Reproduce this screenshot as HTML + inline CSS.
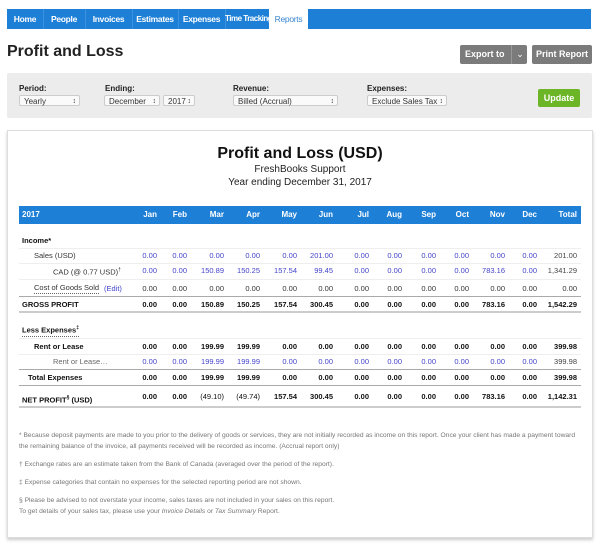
<!DOCTYPE html><html><head><style>
body{margin:0;width:600px;height:546px;background:#fff;font-family:"Liberation Sans",sans-serif;position:relative;overflow:hidden}
.a{position:absolute;white-space:nowrap}
.nav{left:7px;top:9px;width:584px;height:20px;background:#1e7fd6}
.tab{position:absolute;top:9px;height:20px;line-height:20px;color:#fff;font-size:8.5px;letter-spacing:-0.3px;font-weight:bold;text-align:center;border-right:1px solid #3b91df;white-space:nowrap}
.btn{position:absolute;background:#7b7b7b;color:#fff;font-size:9px;font-weight:bold;text-align:center;line-height:19px;height:19px;border-radius:2px;white-space:nowrap}
.lbl{position:absolute;font-size:8px;font-weight:bold;color:#222;top:84px}
.sel{position:absolute;top:95px;height:11px;border:1px solid #ccc;background:#fafafa;font-size:8px;line-height:11px;color:#333;padding-left:4px;box-sizing:border-box;border-radius:2px;white-space:nowrap}
.sel:after{content:"\2195";position:absolute;right:3px;font-size:7px}
.r{position:absolute;left:19px;width:562px;height:15px;font-size:7.5px;line-height:15px;color:#333;white-space:nowrap}
.r span{position:absolute;width:44px;text-align:right}
.b{font-weight:bold;color:#111}
.u span{color:#44c}
.u span.t{color:#444}
.hl{position:absolute;left:19px;width:562px}
.fn{position:absolute;left:19px;font-size:6.7px;color:#777;line-height:11px}
</style></head><body>
<div class="a nav"></div>
<div class="tab" style="left:7px;width:36px">Home</div>
<div class="tab" style="left:43px;width:42px">People</div>
<div class="tab" style="left:85px;width:47px">Invoices</div>
<div class="tab" style="left:132px;width:46px">Estimates</div>
<div class="tab" style="left:178px;width:47px">Expenses</div>
<div class="tab" style="left:225px;width:45px;letter-spacing:-0.5px;font-size:8px">Time Tracking</div>
<div class="tab" style="left:269px;width:39px;top:6px;height:23px;line-height:26px;background:#fff;color:#3a86d0;font-weight:normal;border:none;border-radius:2px 2px 0 0">Reports</div>

<div class="a" style="left:7px;top:43px;font-size:16px;font-weight:bold;color:#222">Profit and Loss</div>
<div class="btn" style="left:460px;top:45px;width:67px;text-align:left;padding-left:5px;box-sizing:border-box">Export to<span style="position:absolute;left:51px;top:0;width:16px;border-left:1px solid #999;font-weight:normal;text-align:center">&#8964;</span></div>
<div class="btn" style="left:532px;top:45px;width:60px">Print Report</div>

<div class="a" style="left:7px;top:73px;width:585px;height:45px;background:#ececec;border-radius:2px"></div>
<div class="lbl" style="left:19px">Period:</div>
<div class="lbl" style="left:105px">Ending:</div>
<div class="lbl" style="left:233px">Revenue:</div>
<div class="lbl" style="left:367px">Expenses:</div>
<div class="sel" style="left:19px;width:61px">Yearly</div>
<div class="sel" style="left:104px;width:56px">December</div>
<div class="sel" style="left:163px;width:32px">2017</div>
<div class="sel" style="left:233px;width:105px">Billed (Accrual)</div>
<div class="sel" style="left:367px;width:80px">Exclude Sales Tax</div>
<div class="a" style="left:538px;top:89px;width:42px;height:18px;background:#6cb526;color:#fff;font-size:9px;font-weight:bold;text-align:center;line-height:18px;border-radius:2px">Update</div>

<div class="a" style="left:7px;top:130px;width:584px;height:406px;border:1px solid #ddd;box-shadow:0 2px 3px #ccc"></div>
<div class="a" style="left:0;width:600px;top:145px;text-align:center;font-size:16px;font-weight:bold;color:#111">Profit and Loss (USD)</div>
<div class="a" style="left:0;width:600px;top:164px;text-align:center;font-size:10px;color:#222">FreshBooks Support</div>
<div class="a" style="left:0;width:600px;top:177px;text-align:center;font-size:10px;color:#222">Year ending December 31, 2017</div>

<div class="r" style="top:206px;height:18px;line-height:18px;background:#1e7fd6;color:#fff;font-weight:bold;font-size:8px"><b style="position:absolute;left:3px">2017</b>
<span style="left:94px">Jan</span><span style="left:124px">Feb</span><span style="left:161px">Mar</span><span style="left:197px">Apr</span><span style="left:234px">May</span><span style="left:270px">Jun</span><span style="left:306px">Jul</span><span style="left:339px">Aug</span><span style="left:373px">Sep</span><span style="left:406px">Oct</span><span style="left:442px">Nov</span><span style="left:474px">Dec</span><span style="left:514px">Total</span></div>

<div class="r b" style="top:233px"><b style="position:absolute;left:3px">Income*</b></div>
<div class="hl" style="top:248px;border-top:1px solid #eee"></div>
<div class="r u" style="top:248px"><i style="position:absolute;left:15px;font-style:normal">Sales (USD)</i>
<span style="left:94px">0.00</span><span style="left:124px">0.00</span><span style="left:161px">0.00</span><span style="left:197px">0.00</span><span style="left:234px">0.00</span><span style="left:270px">201.00</span><span style="left:306px">0.00</span><span style="left:339px">0.00</span><span style="left:373px">0.00</span><span style="left:406px">0.00</span><span style="left:442px">0.00</span><span style="left:474px">0.00</span><span class="t" style="left:514px">201.00</span></div>
<div class="hl" style="top:263px;border-top:1px solid #eee"></div>
<div class="r u" style="top:263px"><i style="position:absolute;left:34px;font-style:normal">CAD (@ 0.77 USD)<sup style="font-size:5px">†</sup></i>
<span style="left:94px">0.00</span><span style="left:124px">0.00</span><span style="left:161px">150.89</span><span style="left:197px">150.25</span><span style="left:234px">157.54</span><span style="left:270px">99.45</span><span style="left:306px">0.00</span><span style="left:339px">0.00</span><span style="left:373px">0.00</span><span style="left:406px">0.00</span><span style="left:442px">783.16</span><span style="left:474px">0.00</span><span class="t" style="left:514px">1,341.29</span></div>
<div class="hl" style="top:279px;border-top:1px solid #eee"></div>
<div class="r" style="top:281px"><i style="position:absolute;left:15px;top:2px;font-style:normal;border-bottom:1px dotted #666;line-height:10px;white-space:nowrap">Cost of Goods Sold</i><i style="position:absolute;left:85px;font-style:normal;color:#44c">(Edit)</i>
<span style="left:94px">0.00</span><span style="left:124px">0.00</span><span style="left:161px">0.00</span><span style="left:197px">0.00</span><span style="left:234px">0.00</span><span style="left:270px">0.00</span><span style="left:306px">0.00</span><span style="left:339px">0.00</span><span style="left:373px">0.00</span><span style="left:406px">0.00</span><span style="left:442px">0.00</span><span style="left:474px">0.00</span><span style="left:514px">0.00</span></div>
<div class="hl" style="top:296px;border-top:1px solid #aaa"></div>
<div class="r b" style="top:297px"><b style="position:absolute;left:3px">GROSS PROFIT</b>
<span style="left:94px">0.00</span><span style="left:124px">0.00</span><span style="left:161px">150.89</span><span style="left:197px">150.25</span><span style="left:234px">157.54</span><span style="left:270px">300.45</span><span style="left:306px">0.00</span><span style="left:339px">0.00</span><span style="left:373px">0.00</span><span style="left:406px">0.00</span><span style="left:442px">783.16</span><span style="left:474px">0.00</span><span style="left:514px">1,542.29</span></div>
<div class="hl" style="top:311px;border-top:2px solid #ccc"></div>

<div class="r b" style="top:323px"><b style="position:absolute;left:3px;border-bottom:1px dotted #666;line-height:11px">Less Expenses<sup style="font-size:5px">‡</sup></b></div>
<div class="hl" style="top:338px;border-top:1px solid #eee"></div>
<div class="r b" style="top:339px"><b style="position:absolute;left:15px">Rent or Lease</b>
<span style="left:94px">0.00</span><span style="left:124px">0.00</span><span style="left:161px">199.99</span><span style="left:197px">199.99</span><span style="left:234px">0.00</span><span style="left:270px">0.00</span><span style="left:306px">0.00</span><span style="left:339px">0.00</span><span style="left:373px">0.00</span><span style="left:406px">0.00</span><span style="left:442px">0.00</span><span style="left:474px">0.00</span><span style="left:514px">399.98</span></div>
<div class="hl" style="top:354px;border-top:1px solid #eee"></div>
<div class="r u" style="top:354px"><i style="position:absolute;left:34px;font-style:normal;color:#666">Rent or Lease…</i>
<span style="left:94px">0.00</span><span style="left:124px">0.00</span><span style="left:161px">199.99</span><span style="left:197px">199.99</span><span style="left:234px">0.00</span><span style="left:270px">0.00</span><span style="left:306px">0.00</span><span style="left:339px">0.00</span><span style="left:373px">0.00</span><span style="left:406px">0.00</span><span style="left:442px">0.00</span><span style="left:474px">0.00</span><span class="t" style="left:514px">399.98</span></div>
<div class="hl" style="top:369px;border-top:1px solid #aaa"></div>
<div class="r b" style="top:370px"><b style="position:absolute;left:9px">Total Expenses</b>
<span style="left:94px">0.00</span><span style="left:124px">0.00</span><span style="left:161px">199.99</span><span style="left:197px">199.99</span><span style="left:234px">0.00</span><span style="left:270px">0.00</span><span style="left:306px">0.00</span><span style="left:339px">0.00</span><span style="left:373px">0.00</span><span style="left:406px">0.00</span><span style="left:442px">0.00</span><span style="left:474px">0.00</span><span style="left:514px">399.98</span></div>
<div class="hl" style="top:385px;border-top:1px solid #aaa"></div>
<div class="r b" style="top:389px"><b style="position:absolute;left:3px;top:2px">NET PROFIT<sup style="font-size:5px">§</sup> (USD)</b>
<span style="left:94px">0.00</span><span style="left:124px">0.00</span><span style="left:161px;font-weight:normal">(49.10)</span><span style="left:197px;font-weight:normal">(49.74)</span><span style="left:234px">157.54</span><span style="left:270px">300.45</span><span style="left:306px">0.00</span><span style="left:339px">0.00</span><span style="left:373px">0.00</span><span style="left:406px">0.00</span><span style="left:442px">783.16</span><span style="left:474px">0.00</span><span style="left:514px">1,142.31</span></div>
<div class="hl" style="top:406px;border-top:2px solid #ccc"></div>

<div class="fn" style="top:430px;width:565px;white-space:normal">* Because deposit payments are made to you prior to the delivery of goods or services, they are not initially recorded as income on this report. Once your client has made a payment toward the remaining balance of the invoice, all payments received will be recorded as income. (Accrual report only)</div>
<div class="fn" style="top:459px">† Exchange rates are an estimate taken from the Bank of Canada (averaged over the period of the report).</div>
<div class="fn" style="top:477px">‡ Expense categories that contain no expenses for the selected reporting period are not shown.</div>
<div class="fn" style="top:495px">§ Please be advised to not overstate your income, sales taxes are not included in your sales on this report.<br>To get details of your sales tax, please use your <i>Invoice Details</i> or <i>Tax Summary</i> Report.</div>
</body></html>
